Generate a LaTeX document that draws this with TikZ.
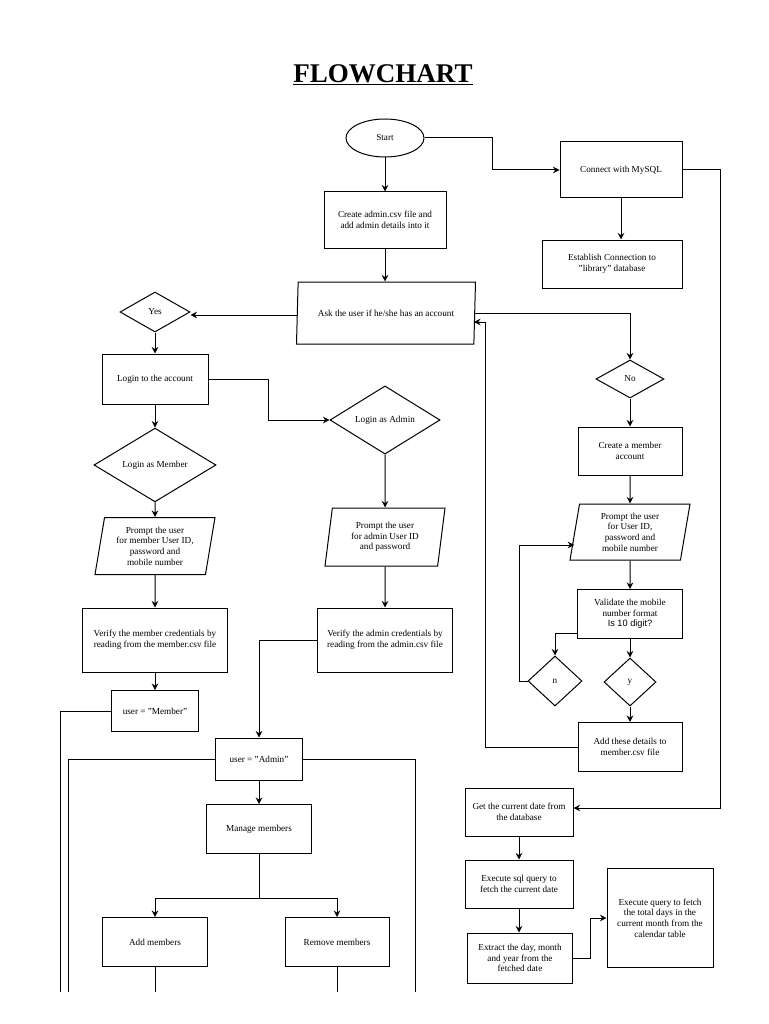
\documentclass[tikz,border=0pt]{standalone}
\usepackage{fontspec}
\setmainfont{Liberation Serif}
\usetikzlibrary{shapes.geometric,arrows.meta}
\begin{document}
\begin{tikzpicture}[x=1pt,y=-1pt,
  every node/.style={font=\fontsize{9.2}{10.6}\selectfont,align=center,line width=1pt},
  box/.style={draw,rectangle,inner sep=1pt},
  dia/.style={draw,diamond,inner sep=0pt},
  para/.style={draw,trapezium,trapezium left angle=76,trapezium right angle=104,trapezium stretches body,inner sep=0pt},
  ln/.style={line width=1pt},
  arr/.style={ln,-{Stealth[length=6.5pt,width=6.5pt]}}]
\useasboundingbox (0,0) rectangle (768,1024);
\node[font=\fontsize{27}{30}\selectfont\bfseries] (title) at (383,75) {\underline{FLOWCHART}};
\node[draw,ellipse,minimum width=78,minimum height=38] (start) at (385,138) {Start};
\node[box,minimum width=122,minimum height=56] (mysql) at (621,170) {Connect with MySQL};
\node[box,minimum width=140,minimum height=48] (estab) at (612,264) {Establish Connection to\\"library" database};
\node[box,minimum width=122,minimum height=56] (cadmin) at (385,220) {Create admin.csv file and\\add admin details into it};
\node[para,minimum width=179,minimum height=62] (ask) at (386,313) {Ask the user if he/she has an account};
\node[dia,minimum width=70,minimum height=40] (yes) at (155,312) {Yes};
\node[dia,minimum width=68,minimum height=38] (no) at (630,379) {No};
\node[box,minimum width=106,minimum height=50] (login) at (155,379) {Login to the account};
\node[dia,minimum width=122,minimum height=64] (lmem) at (155,465) {Login as Member};
\node[dia,minimum width=110,minimum height=64] (ladm) at (385,420) {Login as Admin};
\node[para,minimum width=120,minimum height=57] (pmem) at (155,546) {Prompt the user\\for member User ID,\\password and\\mobile number};
\node[para,minimum width=120,minimum height=58] (padm) at (385,537) {Prompt the user\\for admin User ID\\and password};
\node[box,minimum width=145,minimum height=64] (vmem) at (155,640) {Verify the member credentials by\\reading from the member.csv file};
\node[box,minimum width=135,minimum height=64] (vadm) at (385,640) {Verify the admin credentials by\\reading from the admin.csv file};
\node[box,minimum width=87,minimum height=41] (umem) at (155,711) {user = "Member"};
\node[box,minimum width=87,minimum height=42] (uadm) at (259,759) {user = "Admin"};
\node[box,minimum width=105,minimum height=49] (manage) at (259,829) {Manage members};
\node[box,minimum width=105,minimum height=49] (add) at (155,942) {Add members};
\node[box,minimum width=104,minimum height=49] (rem) at (337,942) {Remove members};
\node[box,minimum width=104,minimum height=48] (cmem) at (630,451) {Create a member\\account};
\node[para,minimum width=120,minimum height=56] (pr) at (630,532) {Prompt the user\\for User ID,\\password and\\mobile number};
\node[box,minimum width=105,minimum height=49] (val) at (630,614) {Validate the mobile\\number format\\{\fontspec{Liberation Sans}Is 10 digit?}};
\node[dia,minimum width=54,minimum height=50] (n) at (555,681) {n};
\node[dia,minimum width=52,minimum height=48] (y) at (630,682) {y};
\node[box,minimum width=104,minimum height=49] (adddet) at (630,747) {Add these details to\\member.csv file};
\node[box,minimum width=108,minimum height=48] (gdate) at (519,812) {Get the current date from\\the database};
\node[box,minimum width=108,minimum height=48] (exsql) at (519,884) {Execute sql query to\\fetch the current date};
\node[box,minimum width=105,minimum height=50] (extr) at (520,958) {Extract the day, month\\and year from the\\fetched date};
\node[box,minimum width=106,minimum height=99] (exq) at (660,918) {Execute query to fetch\\the total days in the\\current month from the\\calendar table};
\coordinate (askin) at (474,322);
\coordinate (e1) at (60,992);
\coordinate (e2) at (68,992);
\coordinate (e3) at (415,992);
\coordinate (e4) at (155,992);
\coordinate (e5) at (337,992);
\draw[arr] (start.east) -| (492,170) -- (mysql.west);
\draw[arr] (mysql.south) -- (mysql.south|-estab.north);
\draw[arr] (mysql.east) -| (720,808) -- (gdate.east|-{(0,808)});
\draw[arr] (start.south) -- (cadmin.north);
\draw[arr] (cadmin.south) -- (ask.north-|cadmin.south);
\draw[arr] (ask.west|-{(0,315)}) -- (yes.east|-{(0,315)});
\draw[arr] (ask.east) -| (no.north);
\draw[arr] (yes.south) -- (login.north);
\draw[arr] (login.south) -- (lmem.north);
\draw[arr] (login.east) -| (268,420) -- (ladm.west);
\draw[arr] (lmem.south) -- (pmem.north);
\draw[arr] (ladm.south) -- (padm.north);
\draw[arr] (pmem.south) -- (vmem.north);
\draw[arr] (padm.south) -- (vadm.north);
\draw[arr] (vmem.south) -- (umem.north);
\draw[ln] (umem.west) -| (e1);
\draw[arr] (vadm.west) -| (uadm.north);
\draw[ln] (uadm.west) -| (e2);
\draw[ln] (uadm.east) -| (e3);
\draw[arr] (uadm.south) -- (manage.north);
\draw[ln] (manage.south) -- (259,898);
\draw[arr] (259,898) -| (add.north);
\draw[arr] (259,898) -| (rem.north);
\draw[ln] (add.south) -- (e4);
\draw[ln] (rem.south) -- (e5);
\draw[arr] (no.south) -- (cmem.north);
\draw[arr] (cmem.south) -- (pr.north);
\draw[arr] (pr.south) -- (val.north);
\draw[arr] (val.west|-{(0,633)}) -| (n.north);
\draw[arr] (val.south) -- (y.north);
\draw[arr] (n.west) -| (519,545) -- (pr.west|-{(0,545)});
\draw[arr] (y.south) -- (adddet.north);
\draw[arr] (adddet.west) -| (485,322) -- (askin);
\draw[arr] (gdate.south) -- (exsql.north);
\draw[arr] (exsql.south) -- (exsql.south|-extr.north);
\draw[arr] (extr.east) -| (590,918) -- (exq.west);
\end{tikzpicture}
\end{document}
